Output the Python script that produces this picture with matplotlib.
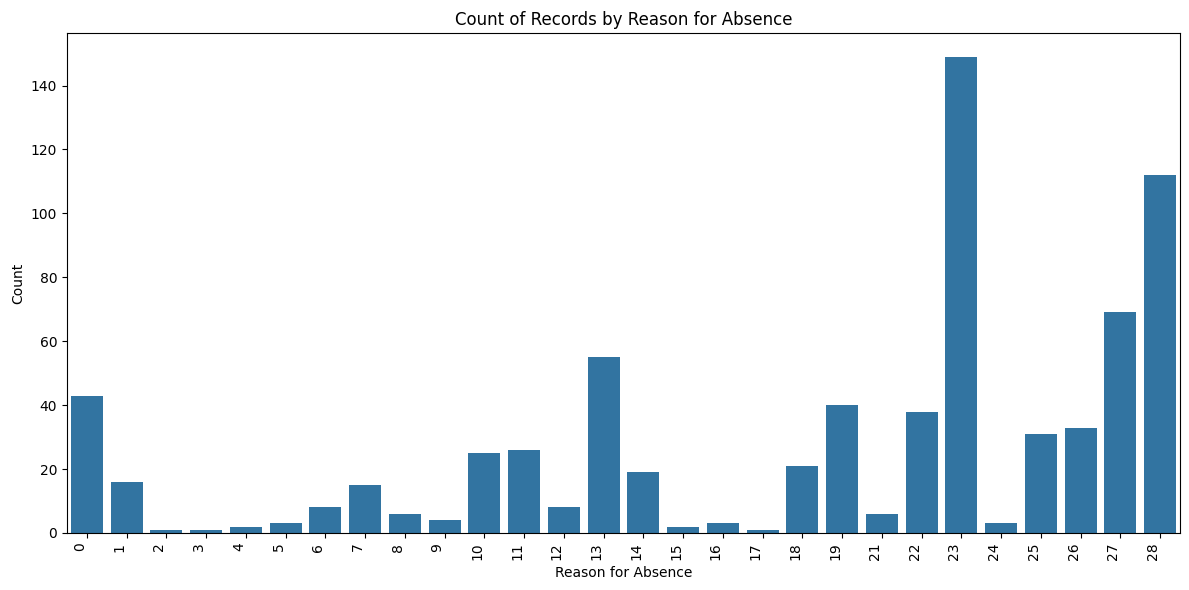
import matplotlib
matplotlib.use("Agg")
import matplotlib.pyplot as plt

reasons = ["0", "1", "2", "3", "4", "5", "6", "7", "8", "9", "10", "11", "12", "13",
           "14", "15", "16", "17", "18", "19", "21", "22", "23", "24", "25", "26", "27", "28"]
counts = [43, 16, 1, 1, 2, 3, 8, 15, 6, 4, 25, 26, 8, 55,
          19, 2, 3, 1, 21, 40, 6, 38, 149, 3, 31, 33, 69, 112]

fig, ax = plt.subplots(figsize=(11.89, 5.9), dpi=100)
x = range(len(reasons))
ax.bar(x, counts, width=0.8, color="#3274a1")
ax.set_xticks(list(x))
ax.set_xticklabels(reasons, rotation=90, ha="right")
ax.set_xlim(-0.5, len(reasons) - 0.5)
ax.set_title("Count of Records by Reason for Absence")
ax.set_xlabel("Reason for Absence")
ax.set_ylabel("Count")
fig.subplots_adjust(left=67 / 1189, right=1180 / 1189, top=1 - 33 / 590, bottom=1 - 533 / 590)
fig.savefig("out.png", dpi=100)
